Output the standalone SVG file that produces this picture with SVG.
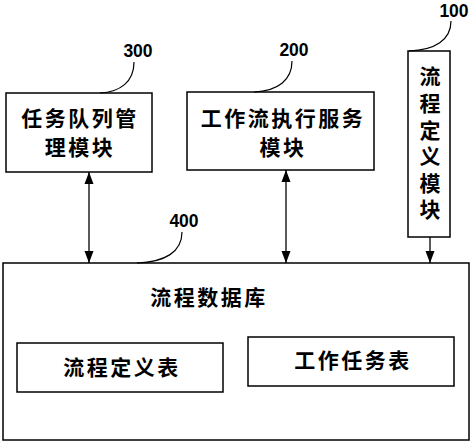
<svg xmlns="http://www.w3.org/2000/svg" width="474" height="445" viewBox="0 0 474 445">
<defs>
<marker id="ah" viewBox="0 0 12 10" refX="12" refY="5" markerWidth="12" markerHeight="10" markerUnits="userSpaceOnUse" orient="auto-start-reverse">
<path d="M0,0.5 L12,5 L0,9.5 Z" fill="#000"/>
</marker>
<style>
.box{fill:#fff;stroke:#000;stroke-width:1.5}
.t{font-family:"Noto Sans CJK SC",sans-serif;font-size:21px;font-weight:bold;fill:#000;text-anchor:middle;letter-spacing:2.5px}
.v{font-family:"Noto Sans CJK SC",sans-serif;font-size:21px;font-weight:bold;fill:#000;writing-mode:vertical-rl;letter-spacing:5.6px}
.n{font-family:"Liberation Sans",sans-serif;font-size:17.5px;font-weight:bold;fill:#000;text-anchor:middle}
.c{fill:none;stroke:#000;stroke-width:1.3}
.lead{fill:none;stroke:#000;stroke-width:1.2}
</style>
</defs>
<rect width="474" height="445" fill="#fff"/>
<g id="node400">
<rect class="box" x="3" y="263" width="466" height="177"/>
<text class="t" x="209" y="305">流程数据库</text>
<text class="n" x="184" y="227">400</text>
<path class="lead" d="M182,232 C182,252 165,262 137,263"/>
</g>
<g id="table1">
<rect class="box" x="17" y="343" width="206" height="49"/>
<text class="t" x="122" y="375">流程定义表</text>
</g>
<g id="table2">
<rect class="box" x="248" y="337" width="206" height="49"/>
<text class="t" x="353" y="368">工作任务表</text>
</g>
<g id="node300">
<rect class="box" x="6" y="93" width="146" height="79"/>
<text class="t" x="80" y="126">任务队列管</text>
<text class="t" x="80" y="155">理模块</text>
<text class="n" x="138" y="57">300</text>
<path class="lead" d="M134,62 C134,82 120,92 100,93"/>
</g>
<g id="node200">
<rect class="box" x="187" y="92" width="187" height="78"/>
<text class="t" x="283" y="126">工作流执行服务</text>
<text class="t" x="283" y="155">模块</text>
<text class="n" x="294" y="56">200</text>
<path class="lead" d="M292,61 C292,80 278,91 254,92"/>
</g>
<g id="node100">
<rect class="box" x="408" y="51" width="42" height="186"/>
<text class="v" x="430" y="66">流程定义模块</text>
<text class="n" x="454" y="17">100</text>
<path class="lead" d="M451,21 C451,40 435,50 409,51"/>
</g>
<g id="connectors">
<line class="c" x1="89" y1="172" x2="89" y2="263" marker-start="url(#ah)" marker-end="url(#ah)"/>
<line class="c" x1="286" y1="170" x2="286" y2="263" marker-start="url(#ah)" marker-end="url(#ah)"/>
<line class="c" x1="430" y1="237" x2="430" y2="263" marker-end="url(#ah)"/>
</g>
</svg>
